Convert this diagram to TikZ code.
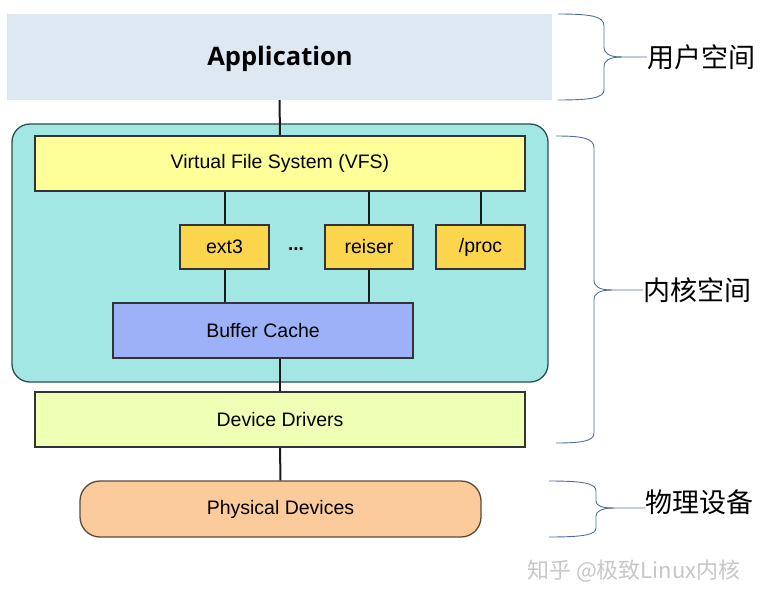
\documentclass[tikz,border=0pt]{standalone}
\usepackage{fontspec}
\setmainfont{Liberation Sans}
\newfontfamily\appfont{Open Sans}
\newfontfamily\cjk{Noto Sans CJK SC}

\definecolor{appfill}{HTML}{DEE8F3}
\definecolor{kernfill}{HTML}{A3E7E5}
\definecolor{kernline}{HTML}{2F4F4F}
\definecolor{vfsfill}{HTML}{FFFF99}
\definecolor{fsfill}{HTML}{FBD54C}
\definecolor{cachefill}{HTML}{9DB1F8}
\definecolor{drvfill}{HTML}{EFFFB6}
\definecolor{devfill}{HTML}{FCCB9B}
\definecolor{devline}{HTML}{5A4A3A}
\definecolor{braceline}{HTML}{4F6FA0}

\tikzset{
  layerbox/.style={draw=black!80, line width=1.3pt, minimum width=490, minimum height=55,
    inner sep=0pt, font=\fontsize{19.5}{22}\selectfont},
  fsbox/.style={layerbox, fill=fsfill, minimum width=89, minimum height=44},
  spacelabel/.style={font=\cjk\fontsize{27}{30}\selectfont, inner sep=0pt, anchor=west},
  spacebrace/.style={draw=braceline, line width=0.9pt},
  link/.style={draw=black!90, line width=2pt}
}

\begin{document}
\begin{tikzpicture}[x=1pt,y=-1pt]
\useasboundingbox (0,0) rectangle (765,602);

% user space
\node[fill=appfill, minimum width=545, minimum height=86, inner sep=0pt,
  font=\appfont\bfseries\fontsize{25.5}{30}\selectfont] (app) at (279.5,57) {};
\node[font=\appfont\bfseries\fontsize{25.5}{30}\selectfont, inner sep=0pt] (apptext) at (280,59) {Application};

% kernel space
\node[draw=kernline, fill=kernfill, line width=1.3pt, rounded corners=18pt,
  minimum width=536, minimum height=258] (kernel) at (280,253) {};
\node[layerbox, fill=vfsfill] (vfs) at (280,163.5) {Virtual File System (VFS)};
\node[fsbox] (ext3) at (224.5,247) {ext3};
\node[font=\bfseries\fontsize{19}{22}\selectfont] (dots) at (296,249) {...};
\node[fsbox, minimum width=88] (reiser) at (369,247) {reiser};
\node[fsbox] (proc) at (480.5,247) {/proc};
\node[layerbox, fill=cachefill, minimum width=300] (cache) at (263,330.5) {Buffer Cache};
\node[layerbox, fill=drvfill] (drivers) at (280,419.5) {Device Drivers};

% hardware
\node[layerbox, draw=devline, fill=devfill, rounded corners=20pt,
  minimum width=401, minimum height=56] (devices) at (280.5,509) {Physical Devices};

\draw[link] (app.south) -- (vfs.north);
\draw[link] (ext3.north |- vfs.south) -- (ext3.north);
\draw[link] (reiser.north |- vfs.south) -- (reiser.north);
\draw[link] (proc.north |- vfs.south) -- (proc.north);
\draw[link] (ext3.south) -- (ext3.south |- cache.north);
\draw[link] (reiser.south) -- (reiser.south |- cache.north);
\draw[link] (drivers.north |- cache.south) -- (drivers.north);
\draw[link] (drivers.south) -- (devices.north);

% braces
\node[spacelabel] (user) at (647,57) {用户空间};
\node[spacelabel] (kern) at (643,290) {内核空间};
\node[spacelabel] (hw) at (645,502) {物理设备};

\draw[spacebrace] (558,14) .. controls (590,14) and (604,16) .. (604,26) -- (604,47)
  .. controls (604,54) and (610,57) .. (622,57) -- (user.west);
\draw[spacebrace] (622,57) .. controls (610,57) and (604,60) .. (604,67) -- (604,90)
  .. controls (604,98) and (590,100) .. (558,100);

\draw[spacebrace] (556,136) .. controls (582,136) and (594,138) .. (594,148) -- (594,280)
  .. controls (594,287) and (600,290) .. (612,290) -- (kern.west);
\draw[spacebrace] (612,290) .. controls (600,290) and (594,293) .. (594,300) -- (594,433)
  .. controls (594,441) and (582,443) .. (556,443);

\draw[spacebrace] (549,481) .. controls (582,481) and (596,483) .. (596,491) -- (596,501)
  .. controls (596,506) and (602,508) .. (614,508) -- (hw.west |- 0,508);
\draw[spacebrace] (614,508) .. controls (602,508) and (596,511) .. (596,516) -- (596,528)
  .. controls (596,535) and (582,537) .. (549,537);

% watermark
\node[font=\cjk\fontsize{22}{26}\selectfont, text=black!22, anchor=west, inner sep=0pt]
  (mark) at (527,571) {知乎 @极致Linux内核};
\end{tikzpicture}
\end{document}
